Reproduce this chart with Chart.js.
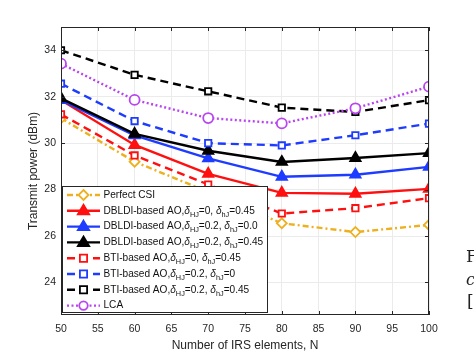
<!DOCTYPE html>
<html><head><meta charset="utf-8">
<script src="https://cdn.jsdelivr.net/npm/chart.js@4"></script>
<style>
html,body{margin:0;padding:0;background:#fff;}
#wrap{position:relative;width:474px;height:356px;overflow:hidden;}
canvas{position:absolute;left:0;top:0;}
.frag{position:absolute;font-family:"DejaVu Serif","Liberation Serif",serif;color:#222;}
</style></head><body>
<div id="wrap">
<canvas id="c" width="474" height="356"></canvas>
<span class="frag" style="left:466px;top:246px;font-size:17px;">F</span>
<span class="frag" style="left:466px;top:270px;font-size:16px;font-style:italic;">c</span>
<span class="frag" style="left:467px;top:291px;font-size:17px;">[</span>
</div>
<script>
const categories = [50, 60, 70, 80, 90, 100];
const perfectCSI   = [31.07, 29.2, 27.9, 26.55, 26.17, 26.48];
const dbldiRed     = [31.85, 29.92, 28.68, 27.86, 27.82, 28.03];
const dbldiBlue    = [31.85, 30.33, 29.34, 28.55, 28.64, 28.98];
const dbldiBlack   = [31.93, 30.4, 29.67, 29.19, 29.36, 29.57];
const btiRed       = [31.24, 29.47, 28.22, 26.97, 27.2, 27.63];
const btiBlue      = [32.56, 30.95, 30.0, 29.9, 30.34, 30.84];
const btiBlack     = [34.0, 32.94, 32.23, 31.53, 31.34, 31.85];
const lca          = [33.42, 31.86, 31.08, 30.85, 31.5, 32.43];
const xTicks = [50, 55, 60, 65, 70, 75, 80, 85, 90, 95, 100];
const yTicks = [24, 26, 28, 30, 32, 34];
const legendLabels = [
  [['Perfect CSI']],
  [['DBLDI-based AO,'],['δ','i'],['HJ','s'],['=0, '],['δ','i'],['hJ','s'],['=0.45']],
  [['DBLDI-based AO,'],['δ','i'],['HJ','s'],['=0.2, '],['δ','i'],['hJ','s'],['=0.0']],
  [['DBLDI-based AO,'],['δ','i'],['HJ','s'],['=0.2, '],['δ','i'],['hJ','s'],['=0.45']],
  [['BTI-based AO,'],['δ','i'],['HJ','s'],['=0, '],['δ','i'],['hJ','s'],['=0.45']],
  [['BTI-based AO,'],['δ','i'],['HJ','s'],['=0.2, '],['δ','i'],['hJ','s'],['=0']],
  [['BTI-based AO,'],['δ','i'],['HJ','s'],['=0.2, '],['δ','i'],['hJ','s'],['=0.45']],
  [['LCA']]
];

const YEL='#EDB120', RED='#FF1010', BLUE='#1E3CFF', BLK='#000000', PUR='#B845F0';
const styles = [
  {data:perfectCSI, color:YEL, dash:[6,3,2,3], shape:'rectRot', r:5, fill:'#fff'},
  {data:dbldiRed, color:RED, dash:[], shape:'triangle', r:6, fill:RED},
  {data:dbldiBlue, color:BLUE, dash:[], shape:'triangle', r:6, fill:BLUE},
  {data:dbldiBlack, color:BLK, dash:[], shape:'triangle', r:6, fill:BLK},
  {data:btiRed, color:RED, dash:[8,5], shape:'rect', r:4.5, fill:'#fff'},
  {data:btiBlue, color:BLUE, dash:[8,5], shape:'rect', r:4.5, fill:'#fff'},
  {data:btiBlack, color:BLK, dash:[8,5], shape:'rect', r:4.5, fill:'#fff'},
  {data:lca, color:PUR, dash:[2,2.5], shape:'circle', r:5, fill:'#fff'}
];

const datasets = styles.map((s,i)=>({
  data: s.data.map((v,j)=>({x:categories[j], y:v})),
  borderColor: s.color, borderWidth: 2.4, borderDash: s.dash,
  pointStyle: s.shape, pointRadius: s.r, pointBorderWidth: 1.8,
  pointBackgroundColor: s.fill, pointBorderColor: s.color,
  fill:false, tension:0, order: 8-i
}));

function drawMarker(ctx, s, x, y){
  ctx.save();
  ctx.setLineDash([]);
  ctx.lineWidth = 1.8; ctx.strokeStyle = s.color; ctx.fillStyle = s.fill;
  ctx.beginPath();
  const r = s.r;
  if (s.shape==='triangle'){
    ctx.moveTo(x, y-r); ctx.lineTo(x+r*0.95, y+r*0.6); ctx.lineTo(x-r*0.95, y+r*0.6); ctx.closePath();
  } else if (s.shape==='rect'){
    const a = r*0.8; ctx.rect(x-a, y-a, 2*a, 2*a);
  } else if (s.shape==='rectRot'){
    ctx.moveTo(x, y-r); ctx.lineTo(x+r, y); ctx.lineTo(x, y+r); ctx.lineTo(x-r, y); ctx.closePath();
  } else {
    ctx.arc(x, y, r*0.85, 0, Math.PI*2);
  }
  ctx.fill(); ctx.stroke();
  ctx.restore();
}

const framePlugin = {
  id:'frame',
  afterDraw(chart){
    const ctx = chart.ctx, a = chart.chartArea;
    const xs = chart.scales.x, ys = chart.scales.y;
    ctx.save();
    ctx.strokeStyle = '#262626'; ctx.lineWidth = 1; ctx.setLineDash([]);
    ctx.strokeRect(a.left+0.5, a.top+0.5, a.right-a.left-1, a.bottom-a.top-1);
    ctx.beginPath();
    xTicks.forEach(v=>{ const px = Math.round(xs.getPixelForValue(v))+0.5;
      ctx.moveTo(px, a.bottom); ctx.lineTo(px, a.bottom-4);
      ctx.moveTo(px, a.top); ctx.lineTo(px, a.top+4); });
    yTicks.forEach(v=>{ const py = Math.round(ys.getPixelForValue(v))+0.5;
      ctx.moveTo(a.left, py); ctx.lineTo(a.left+4, py);
      ctx.moveTo(a.right, py); ctx.lineTo(a.right-4, py); });
    ctx.stroke();

    // legend
    const L = 62.5, T = 186.5, W = 205, H = 126;
    ctx.fillStyle = '#fff'; ctx.fillRect(L, T, W, H);
    ctx.strokeStyle = '#262626'; ctx.lineWidth = 1; ctx.strokeRect(L, T, W, H);
    const base = 'Liberation Sans, Arial, sans-serif';
    styles.forEach((s,i)=>{
      const cy = 195 + i*15.8;
      ctx.save();
      ctx.strokeStyle = s.color; ctx.lineWidth = 2.4; ctx.setLineDash(s.dash);
      ctx.beginPath(); ctx.moveTo(67, cy); ctx.lineTo(100, cy); ctx.stroke();
      ctx.restore();
      drawMarker(ctx, s, 83.5, cy);
      let x = 103.5;
      ctx.fillStyle = '#111'; ctx.textBaseline = 'middle'; ctx.textAlign='left';
      legendLabels[i].forEach(seg=>{
        let y = cy;
        if (seg[1]==='i'){ ctx.font = 'italic 10.1px ' + base; }
        else if (seg[1]==='s'){ ctx.font = '7.3px ' + base; y = cy + 3.8; }
        else ctx.font = '10.1px ' + base;
        ctx.fillText(seg[0], x, y);
        x += ctx.measureText(seg[0]).width;
      });
    });
    ctx.restore();
  }
};

new Chart(document.getElementById('c'), {
  type:'line',
  data:{datasets},
  options:{
    responsive:false, animation:false, devicePixelRatio:1,
    layout:{padding:{left:0, top:27, right:45, bottom:0}},
    plugins:{legend:{display:false}, tooltip:{enabled:false}},
    scales:{
      x:{type:'linear', min:50, max:100,
        afterBuildTicks(s){ s.ticks = xTicks.map(v=>({value:v})); },
        afterFit(s){ s.height = 41; },
        grid:{color:'#ebebeb', drawTicks:false},
        border:{display:false},
        ticks:{padding:8, color:'#262626', font:{family:'Liberation Sans, Arial, sans-serif', size:10.5}, maxRotation:0, autoSkip:false},
        title:{display:true, text:'Number of IRS elements, N', color:'#262626', font:{family:'Liberation Sans, Arial, sans-serif', size:12}, padding:{top:0,bottom:3}}
      },
      y:{type:'linear', min:22.6, max:35,
        afterBuildTicks(s){ s.ticks = yTicks.map(v=>({value:v})); },
        afterFit(s){ s.width = 61; },
        grid:{color:'#ebebeb', drawTicks:false},
        border:{display:false},
        ticks:{padding:5, color:'#262626', font:{family:'Liberation Sans, Arial, sans-serif', size:10.5}, autoSkip:false},
        title:{display:true, text:'Transmit power (dBm)', color:'#262626', font:{family:'Liberation Sans, Arial, sans-serif', size:12}, padding:{top:26,bottom:0}}
      }
    }
  },
  plugins:[framePlugin]
});
</script>
</body></html>
